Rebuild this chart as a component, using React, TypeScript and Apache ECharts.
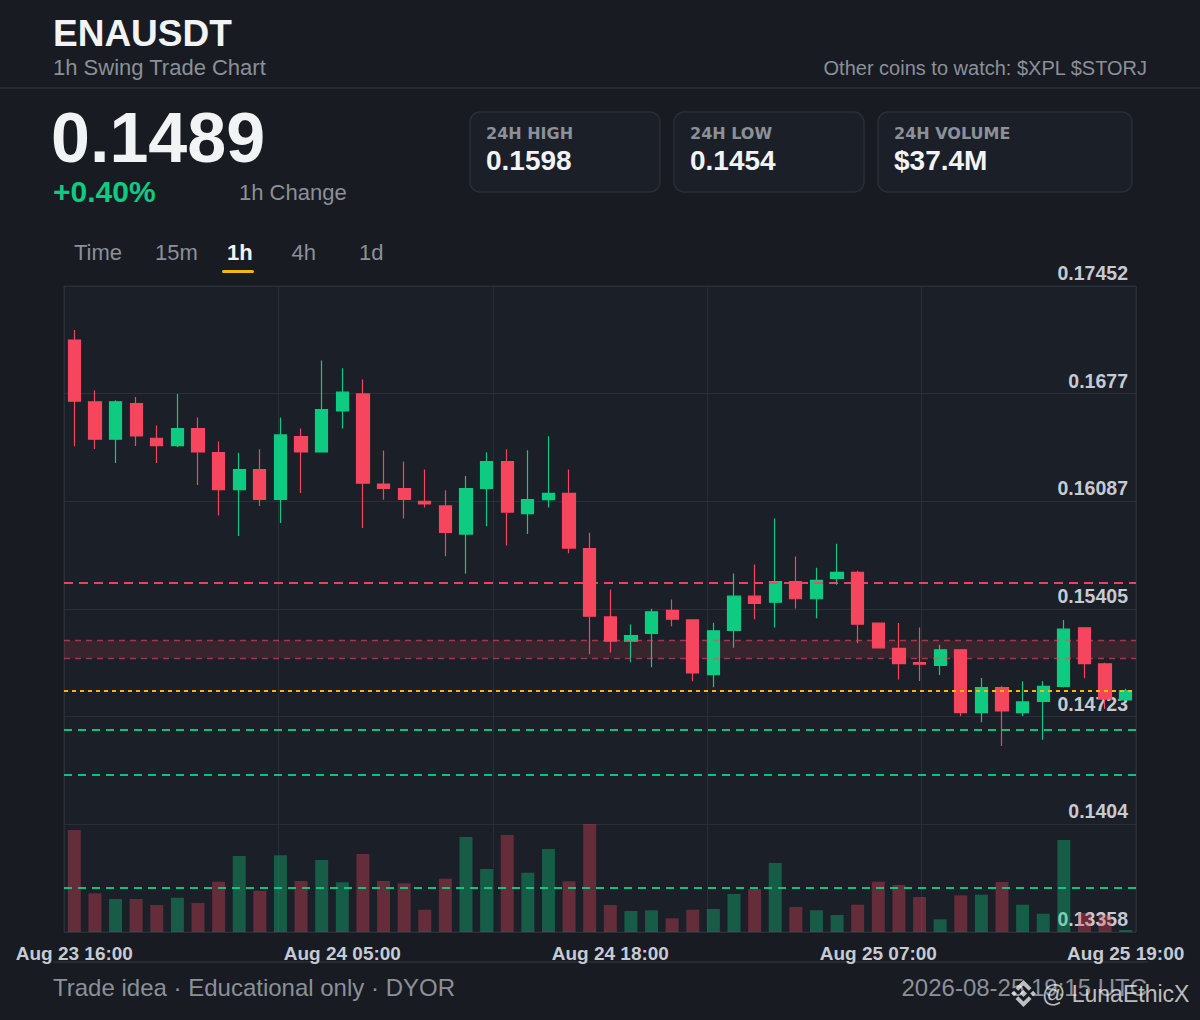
import React, { useEffect, useRef } from "react";
import * as echarts from "echarts";

// ---------- data ----------
const categories = [
  "Aug 23 16:00", "Aug 23 17:00", "Aug 23 18:00", "Aug 23 19:00", "Aug 23 20:00", "Aug 23 21:00", "Aug 23 22:00", "Aug 23 23:00",
  "Aug 24 00:00", "Aug 24 01:00", "Aug 24 02:00", "Aug 24 03:00", "Aug 24 04:00", "Aug 24 05:00", "Aug 24 06:00", "Aug 24 07:00",
  "Aug 24 08:00", "Aug 24 09:00", "Aug 24 10:00", "Aug 24 11:00", "Aug 24 12:00", "Aug 24 13:00", "Aug 24 14:00", "Aug 24 15:00",
  "Aug 24 16:00", "Aug 24 17:00", "Aug 24 18:00", "Aug 24 19:00", "Aug 24 20:00", "Aug 24 21:00", "Aug 24 22:00", "Aug 24 23:00",
  "Aug 25 00:00", "Aug 25 01:00", "Aug 25 02:00", "Aug 25 03:00", "Aug 25 04:00", "Aug 25 05:00", "Aug 25 06:00", "Aug 25 07:00",
  "Aug 25 08:00", "Aug 25 09:00", "Aug 25 10:00", "Aug 25 11:00", "Aug 25 12:00", "Aug 25 13:00", "Aug 25 14:00", "Aug 25 15:00",
  "Aug 25 16:00", "Aug 25 17:00", "Aug 25 18:00", "Aug 25 19:00",
];

const opens = [
  0.17109, 0.16718, 0.16481, 0.16707, 0.16487, 0.16441, 0.16549, 0.16396, 0.16162, 0.16289,
  0.161, 0.16498, 0.164, 0.1666, 0.16768, 0.16197, 0.16168, 0.16087, 0.16058, 0.1588,
  0.1617, 0.16339, 0.16009, 0.16098, 0.16138, 0.15787, 0.15355, 0.15201, 0.15251, 0.15396,
  0.15336, 0.14989, 0.15269, 0.15486, 0.15448, 0.15578, 0.1547, 0.15599, 0.15637, 0.15315,
  0.15156, 0.15065, 0.15048, 0.15146, 0.14748, 0.14907, 0.14748, 0.1482, 0.14915, 0.15286,
  0.15057, 0.14829,
];
const closes = [
  0.16722, 0.16481, 0.16718, 0.16502, 0.16441, 0.16549, 0.164, 0.16162, 0.16289, 0.161,
  0.16508, 0.164, 0.16669, 0.16779, 0.16202, 0.1617, 0.161, 0.16071, 0.15891, 0.16168,
  0.16339, 0.16019, 0.16098, 0.16138, 0.15791, 0.15359, 0.15201, 0.15237, 0.15387, 0.1534,
  0.15, 0.15267, 0.15486, 0.1544, 0.15578, 0.1547, 0.15586, 0.15637, 0.15309, 0.15159,
  0.15059, 0.15055, 0.15146, 0.14748, 0.14907, 0.14759, 0.14816, 0.14915, 0.15277, 0.15059,
  0.14835, 0.14888,
];
const highs = [
  0.17173, 0.1679, 0.16728, 0.16749, 0.16568, 0.16768, 0.16619, 0.16466, 0.16396, 0.16417,
  0.16619, 0.16549, 0.1698, 0.1693, 0.1686, 0.16409, 0.16339, 0.16289, 0.16157, 0.16248,
  0.16398, 0.16417, 0.16411, 0.165, 0.16289, 0.15889, 0.15529, 0.15307, 0.15406, 0.15465,
  0.15338, 0.15318, 0.1563, 0.15687, 0.15979, 0.15738, 0.15667, 0.15819, 0.15647, 0.15315,
  0.15317, 0.15288, 0.15178, 0.15146, 0.14968, 0.14915, 0.14947, 0.14947, 0.15336, 0.15286,
  0.15065, 0.14899,
];
const lows = [
  0.16436, 0.16419, 0.1633, 0.16438, 0.1633, 0.16432, 0.16191, 0.15998, 0.15867, 0.16058,
  0.1595, 0.1614, 0.164, 0.16549, 0.15918, 0.16098, 0.15979, 0.16049, 0.1574, 0.15628,
  0.15929, 0.15808, 0.1588, 0.16049, 0.15759, 0.15118, 0.15129, 0.15067, 0.15036, 0.15296,
  0.14947, 0.14909, 0.15159, 0.1534, 0.15288, 0.15408, 0.15347, 0.15559, 0.15188, 0.15159,
  0.14958, 0.14948, 0.14987, 0.14727, 0.14687, 0.14537, 0.14727, 0.14577, 0.14907, 0.14966,
  0.14772, 0.14829,
];
const volumes = [
  1020, 387, 330, 330, 270, 343, 290, 503, 760, 413,
  767, 510, 720, 497, 780, 510, 487, 223, 533, 950,
  630, 970, 593, 830, 507, 1080, 270, 210, 217, 137,
  223, 230, 380, 430, 690, 250, 217, 170, 273, 503,
  470, 350, 127, 367, 373, 500, 273, 183, 920, 190,
  170, 20,
];

const priceMin = 0.13358;
const priceMax = 0.17452;
const priceSteps = 6;
const volumeMax = 1080;
const xLabelIndices = [0, 13, 26, 39, 51];

const resistanceLevel = 0.15569;
const zoneTop = 0.15205;
const zoneBottom = 0.15093;
const currentPrice = 0.1489;
const supportLevels = [0.14637, 0.14355, 0.13637];

const headerStats = [
  { label: "24H HIGH", value: "0.1598" },
  { label: "24H LOW", value: "0.1454" },
  { label: "24H VOLUME", value: "$37.4M" },
];
const tabs = ["Time", "15m", "1h", "4h", "1d"];
const activeTab = "1h";

// ---------- styling ----------
const FONT = '"Liberation Sans", Arial, Helvetica, sans-serif';
const FONT_WIDE = '"DejaVu Sans", "Liberation Sans", sans-serif';
const BG = "#181b22";
const PLOT_BG = "#1b1f27";
const GRID_LINE = "#2a2e38";
const UP = "#0ecb81";
const DOWN = "#f6465d";
const GOLD = "#f0b90b";
const MUTED = "#8b9099";
const WHITE = "#f2f3f5";
const AXIS_TEXT = "#c6cad2";

function txt(text: string, x: number, y: number, size: number, color: string, weight = "normal", align = "left", family = FONT, extra: any = {}) {
  return {
    type: "text",
    x,
    y,
    silent: true,
    z: 10,
    style: { text, fontSize: size, fontWeight: weight, fontFamily: family, fill: color, align, verticalAlign: "middle", ...extra },
  };
}

function buildOption() {
  const candleData = opens.map((o, i) => [o, closes[i], lows[i], highs[i]]);
  const volumeData = volumes.map((v, i) => ({
    value: v,
    itemStyle: { color: closes[i] >= opens[i] ? "rgba(14,203,129,0.36)" : "rgba(246,70,93,0.34)" },
  }));
  const interval = (priceMax - priceMin) / priceSteps;

  const boxX = [470, 674, 878];
  const boxW = [190, 190, 254];
  const tabX = [74, 155, 227, 291.5, 359];

  const graphics: any[] = [
    txt("ENAUSDT", 53, 33, 37, WHITE, "bold"),
    txt("1h Swing Trade Chart", 53, 67, 22, MUTED),
    txt("Other coins to watch: $XPL $STORJ", 1147, 68, 20, MUTED, "normal", "right"),
    { type: "line", silent: true, shape: { x1: 0, y1: 88, x2: 1200, y2: 88 }, style: { stroke: "#252932", lineWidth: 2 } },
    txt("0.1489", 51, 138, 70, WHITE, "bold"),
    txt("+0.40%", 53, 191, 30, UP, "bold"),
    txt("1h Change", 239, 192, 22, MUTED),
  ];
  headerStats.forEach((s, i) => {
    graphics.push({
      type: "rect",
      silent: true,
      shape: { x: boxX[i], y: 112, width: boxW[i], height: 80, r: 10 },
      style: { fill: PLOT_BG, stroke: "#2a2e38", lineWidth: 1.5 },
    });
    graphics.push(txt(s.label, boxX[i] + 16, 133, 16, MUTED, "bold", "left", FONT_WIDE));
    graphics.push(txt(s.value, boxX[i] + 16, 160.5, 28, WHITE, "bold"));
  });
  tabs.forEach((t, i) => {
    const active = t === activeTab;
    graphics.push(txt(t, tabX[i], 252, 22, active ? WHITE : MUTED, active ? "bold" : "normal"));
  });
  graphics.push({
    type: "rect",
    silent: true,
    shape: { x: 222, y: 270, width: 32, height: 3, r: 1.5 },
    style: { fill: GOLD },
  });
  graphics.push({ type: "line", silent: true, shape: { x1: 53, y1: 962, x2: 1148, y2: 962 }, style: { stroke: "#252932", lineWidth: 2 } });
  graphics.push(txt("Trade idea · Educational only · DYOR", 53, 987, 24, MUTED));
  graphics.push(txt("2026-08-25 19:15 UTC", 1147, 987, 24, MUTED, "normal", "right"));

  // watermark logo
  const cx = 1023.5;
  const cy = 993.5;
  const p = (pts: number[][]) => pts.map(([a, b]) => [cx + a, cy + b]);
  const wm = "rgba(255,255,255,0.72)";
  const logo = [
    p([[0, -3.6], [3.6, 0], [0, 3.6], [-3.6, 0]]),
    p([[-9.5, -2.8], [-6.7, 0], [-9.5, 2.8], [-12.3, 0]]),
    p([[9.5, -2.8], [12.3, 0], [9.5, 2.8], [6.7, 0]]),
    p([[0, -13.5], [8, -5.5], [5.3, -2.8], [0, -8.1], [-5.3, -2.8], [-8, -5.5]]),
    p([[0, 13.5], [8, 5.5], [5.3, 2.8], [0, 8.1], [-5.3, 2.8], [-8, 5.5]]),
  ];
  logo.forEach((pts) => graphics.push({ type: "polygon", silent: true, z: 20, shape: { points: pts }, style: { fill: wm } }));
  graphics.push({ ...txt("@ LunaEthicX", 1042, 994, 23, wm), z: 20 });

  return {
    animation: false,
    backgroundColor: BG,
    graphic: { elements: graphics },
    grid: [
      { left: 64, right: 64, top: 286, bottom: 88, show: true, backgroundColor: PLOT_BG, borderColor: GRID_LINE, borderWidth: 1 },
      { left: 64, right: 64, top: 824, bottom: 88, show: false },
    ],
    xAxis: [
      {
        type: "category",
        gridIndex: 0,
        data: categories,
        boundaryGap: true,
        axisLine: { show: false },
        axisTick: { show: false },
        splitLine: { show: false },
        axisLabel: {
          interval: (i: number) => xLabelIndices.includes(i),
          color: AXIS_TEXT,
          fontFamily: FONT,
          fontWeight: "bold",
          fontSize: 19,
          margin: 12,
        },
      },
      {
        type: "value",
        gridIndex: 0,
        position: "top",
        min: 0,
        max: 5,
        interval: 1,
        axisLine: { show: false },
        axisTick: { show: false },
        axisLabel: { show: false },
        splitLine: { show: true, lineStyle: { color: GRID_LINE, width: 1 } },
      },
      {
        type: "category",
        gridIndex: 1,
        data: categories,
        boundaryGap: true,
        axisLine: { show: false },
        axisTick: { show: false },
        axisLabel: { show: false },
        splitLine: { show: false },
      },
    ],
    yAxis: [
      {
        type: "value",
        gridIndex: 0,
        position: "right",
        min: priceMin,
        max: priceMax,
        interval,
        scale: true,
        axisLine: { show: false },
        axisTick: { show: false },
        splitLine: { show: true, lineStyle: { color: GRID_LINE, width: 1 } },
        axisLabel: {
          inside: true,
          margin: 8,
          color: AXIS_TEXT,
          fontFamily: FONT,
          fontWeight: "bold",
          fontSize: 19.5,
          verticalAlign: "bottom",
          padding: [0, 0, 3, 0],
          formatter: (v: number, idx: number) => (idx > priceSteps ? "" : String(parseFloat(v.toFixed(5)))),
        },
      },
      {
        type: "value",
        gridIndex: 1,
        min: 0,
        max: volumeMax,
        show: false,
        splitLine: { show: false },
      },
    ],
    series: [
      {
        name: "Volume",
        type: "bar",
        xAxisIndex: 2,
        yAxisIndex: 1,
        data: volumeData,
        barWidth: "63%",
        z: 1,
        silent: true,
      },
      {
        name: "ENAUSDT",
        type: "candlestick",
        xAxisIndex: 0,
        yAxisIndex: 0,
        data: candleData,
        barWidth: "62%",
        z: 3,
        itemStyle: { color: UP, color0: DOWN, borderColor: UP, borderColor0: DOWN, borderWidth: 1.2 },
        markArea: {
          silent: true,
          itemStyle: { color: "rgba(246,70,93,0.13)" },
          data: [[{ yAxis: zoneTop }, { yAxis: zoneBottom }]],
        },
        markLine: {
          silent: true,
          precision: 6,
          symbol: ["none", "none"],
          label: { show: false },
          data: [
            { yAxis: resistanceLevel, lineStyle: { color: "rgba(246,70,93,0.95)", type: [9, 6], width: 2 } },
            { yAxis: zoneTop, lineStyle: { color: "rgba(246,70,93,0.6)", type: [6, 5], width: 1.3 } },
            { yAxis: zoneBottom, lineStyle: { color: "rgba(246,70,93,0.6)", type: [6, 5], width: 1.3 } },
            { yAxis: currentPrice, lineStyle: { color: GOLD, type: [4, 4], width: 2 } },
            ...supportLevels.map((lv) => ({ yAxis: lv, lineStyle: { color: "rgba(14,203,129,0.95)", type: [8, 6], width: 2 } })),
          ],
        },
      },
    ],
  };
}

export default function App() {
  const ref = useRef<HTMLDivElement>(null);
  useEffect(() => {
    document.body.style.margin = "0";
    document.body.style.background = BG;
    if (!ref.current) return;
    const chart = echarts.init(ref.current, undefined, { renderer: "svg" });
    chart.setOption(buildOption() as any);
    return () => chart.dispose();
  }, []);
  return <div ref={ref} style={{ position: "absolute", left: 0, top: 0, width: 1200, height: 1020, background: BG }} />;
}
